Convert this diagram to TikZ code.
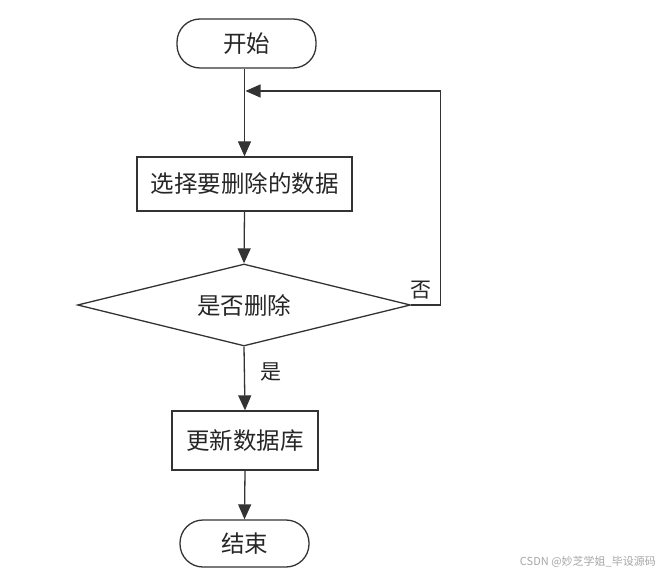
\documentclass[tikz,border=0pt]{standalone}
\usepackage{fontspec}
\newfontfamily\cjk{Noto Sans CJK SC}
\usetikzlibrary{shapes.geometric,arrows.meta}
\begin{document}
\begin{tikzpicture}[x=1pt,y=-1pt,
  every node/.style={font=\cjk\fontsize{23.5}{26}\selectfont, text=black!85},
  line/.style={draw=black!80, line width=1.3pt},
  arr/.style={line, -{Triangle[length=15pt,width=13pt]}},
  term/.style={line, rounded corners=23pt, minimum width=139pt, minimum height=49pt, inner sep=0pt},
  proc/.style={line, rectangle, inner sep=0pt},
  decis/.style={line, diamond, aspect=4, minimum width=333pt, minimum height=82pt, inner sep=0pt},
  lbl/.style={font=\cjk\fontsize{21}{24}\selectfont, text=black!85, inner sep=0pt},
  wmark/.style={font=\cjk\fontsize{11}{13}\selectfont, text=black!35, inner sep=0pt}]
\useasboundingbox (0,0) rectangle (663,577);
\node[term] (start) at (246.5,43.5) {开始};
\node[proc, minimum width=215pt, minimum height=54pt] (sel) at (244.5,184) {选择要删除的数据};
\node[decis] (dec) at (244,305) {是否删除};
\node[proc, minimum width=146pt, minimum height=59pt] (upd) at (245,440.5) {更新数据库};
\node[term, minimum width=129pt, minimum height=47pt] (fin) at (244.5,543.5) {结束};
\coordinate (tr) at (440.5,305);
\coordinate (tl) at (440.5,91);
\coordinate (join) at (245.5,91);
\draw[arr] (start.south -| sel.north) -- (sel.north);
\draw[arr] (sel.south) -- (dec.north);
\draw[arr] (dec.east) -- (tr) -- (tl) -- (join);
\draw[arr] (dec.south) -- node[lbl, right=15pt, pos=0.4] (yes) {是} (upd.north);
\draw[arr] (upd.south) -- (fin.north);
\node[lbl] (no) at (421,290) {否};
\node[wmark, anchor=east] (wm) at (656,562) {CSDN @妙芝学姐\_毕设源码};
\end{tikzpicture}
\end{document}
